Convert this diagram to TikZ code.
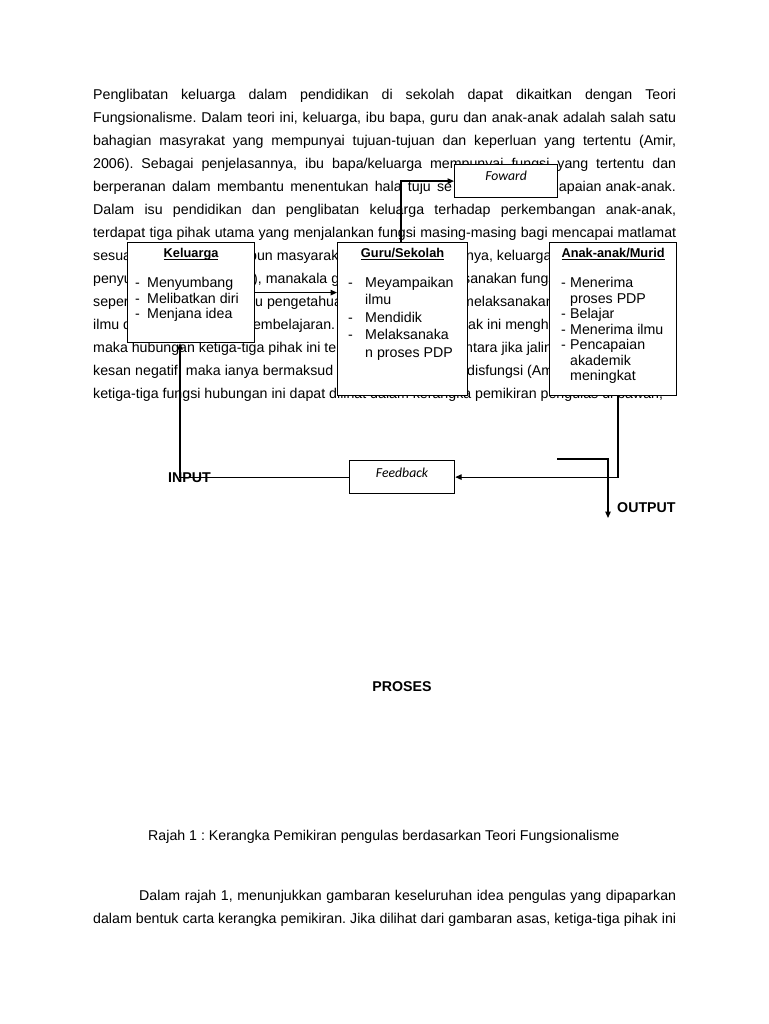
\documentclass[tikz,border=0pt]{standalone}
\usepackage{fontspec}
\setmainfont{Liberation Sans}
\newfontfamily\calibri{Carlito}
\usetikzlibrary{positioning,arrows.meta}
\frenchspacing
\newcommand\body{\fontsize{14.2}{17}\selectfont}
\newcommand\hfont{\fontsize{12.8}{15}\selectfont\bfseries}
\newcommand\ulin[1]{\setbox0\hbox{#1}\rlap{\rule[-2pt]{\wd0}{0.9pt}}\box0}

\begin{document}
\begin{tikzpicture}[x=1pt, y=-1pt, font=\body,
  ln/.style={anchor=base west, inner sep=0pt},
  bx/.style={draw, fill=white, line width=1.2pt, anchor=north west, inner sep=0pt},
  hd/.style={anchor=base, inner sep=0pt, font=\hfont},
  it/.style={anchor=base west, inner sep=0pt},
  lb/.style={anchor=base, inner sep=0pt, font=\calibri\itshape\fontsize{13.7}{16}\selectfont},
  io/.style={anchor=base west, inner sep=0pt, font=\body\bfseries},
  arr/.style={line width=1.2pt, -{Triangle[length=6.5pt,width=5.5pt]}}]
\fill[white] (0,0) rectangle (768,1024);
\useasboundingbox (0,0) rectangle (768,1024);
% paragraph above the chart
\node[ln] (p1) at (93,100) {\makebox[583pt][s]{Penglibatan keluarga dalam pendidikan di sekolah dapat dikaitkan dengan Teori}};
\node[ln] (p2) at (93,122.9) {\makebox[583pt][s]{Fungsionalisme. Dalam teori ini, keluarga, ibu bapa, guru dan anak-anak adalah salah satu}};
\node[ln] (p3) at (93,145.9) {\makebox[583pt][s]{bahagian masyrakat yang mempunyai tujuan-tujuan dan keperluan yang tertentu (Amir,}};
\node[ln] (p4) at (93,168.8) {\makebox[583pt][s]{2006). Sebagai penjelasannya, ibu bapa/keluarga mempunyai fungsi yang tertentu dan}};
\node[ln] (p5a) at (93,191.7) {\makebox[359pt][s]{berperanan dalam membantu menentukan hala tuju se}};
\node[ln, anchor=base east] (p5b) at (676,191.7) {apaian anak-anak.};
\node[ln] (p6) at (93,214.6) {\makebox[583pt][s]{Dalam isu pendidikan dan penglibatan keluarga terhadap perkembangan anak-anak,}};
\node[ln] (p7) at (93,237.6) {\makebox[583pt][s]{terdapat tiga pihak utama yang menjalankan fungsi masing-masing bagi mencapai matlamat}};
\node[ln] (p8a) at (93,260.5) {sesua};
\node[ln] (p8b) at (249,260.5) {pun masyarak};
\node[ln] (p8c) at (466,260.5) {nya, keluarga};
\node[ln] (p9a) at (93,283.4) {penyu};
\node[ln] (p9b) at (253,283.4) {), manakala g};
\node[ln] (p9c) at (463,283.4) {sanakan fungsi};
\node[ln] (p10a) at (93,306.4) {seperti};
\node[ln] (p10b) at (255,306.4) {u pengetahuan};
\node[ln] (p10c) at (462,306.4) {melaksanakan};
\node[ln] (p11a) at (93,329.3) {ilmu d};
\node[ln] (p11b) at (245,329.3) {pembelajaran.};
\node[ln] (p11c) at (468,329.3) {ak ini mengha};
\node[ln] (p12a) at (93,352.2) {maka hubungan ketiga-tiga pihak ini te};
\node[ln] (p12b) at (465,352.2) {ntara jika jalin};
\node[ln] (p13a) at (93,375.2) {\makebox[240pt][s]{kesan negatif, maka ianya bermaksud}};
\node[ln] (p13b) at (467,375.2) {disfungsi (Amir};
\node[ln] (p14) at (93,398.1) {ketiga-tiga fungsi hubungan ini dapat dilihat dalam kerangka pemikiran pengulas di bawah,};
% boxes
\node[bx, minimum width=127pt, minimum height=100pt] (kel) at (127,242) {};
\node[bx, minimum width=130pt, minimum height=153pt] (guru) at (337,242) {};
\node[bx, minimum width=127pt, minimum height=153pt] (anak) at (549,242) {};
\node[bx, minimum width=103pt, minimum height=33pt] (fwd) at (454,164) {};
\node[bx, minimum width=105pt, minimum height=33pt] (fb) at (349,460) {};
\node[hd] (kelh) at ([yshift=-15.5pt]kel.north) {\ulin{Keluarga}};
\node[hd] (guruh) at ([yshift=-15.5pt]guru.north) {\ulin{Guru/Sekolah}};
\node[hd] (anakh) at ([yshift=-15.5pt]anak.north) {\ulin{Anak-anak/Murid}};
\node[it] (k1) at (135,287.5) {\makebox[12pt][l]{-}Menyumbang};
\node[it] (k2) at (135,303) {\makebox[12pt][l]{-}Melibatkan diri};
\node[it] (k3) at (135,318.5) {\makebox[12pt][l]{-}Menjana idea};
\node[it] (g1) at (348,287.5) {\makebox[17pt][l]{-}Meyampaikan};
\node[it] (g2) at (365,304.9) {ilmu};
\node[it] (g3) at (348,322.3) {\makebox[17pt][l]{-}Mendidik};
\node[it] (g4) at (348,339.7) {\makebox[17pt][l]{-}Melaksanaka};
\node[it] (g5) at (365,357.1) {n proses PDP};
\node[it] (a1) at (561,287.5) {\makebox[9pt][l]{-}Menerima};
\node[it] (a2) at (570,303) {proses PDP};
\node[it] (a3) at (561,318.5) {\makebox[9pt][l]{-}Belajar};
\node[it] (a4) at (561,334) {\makebox[9pt][l]{-}Menerima ilmu};
\node[it] (a5) at (561,349.5) {\makebox[9pt][l]{-}Pencapaian};
\node[it] (a6) at (570,365) {akademik};
\node[it] (a7) at (570,380.5) {meningkat};
\node[lb] (fwdt) at ([yshift=-16.5pt]fwd.north) {Foward};
\node[lb] (fbt) at ([yshift=-17.5pt]fb.north) {Feedback};
\node[io] (inp) at (168,482) {INPUT};
\node[io] (outp) at (617,512) {OUTPUT};
\node[io, anchor=base] (pros) at (402,691) {PROSES};
% connectors
\draw[arr] (kel.east) -- (kel.east -| guru.west);
\draw[arr] ([xshift=64pt]guru.north west) |- (fwd.west);
\draw[arr] ([xshift=69pt]anak.south west) |- (fb.east);
\draw[arr] (fb.west) -| ([xshift=53pt]kel.south west);
\coordinate (o1) at (557,459);
\coordinate (o2) at (608,518);
\draw[arr] (o1) -| (o2);
% caption and text below
\node[ln] (cap) at (148,840) {Rajah 1 : Kerangka Pemikiran pengulas berdasarkan Teori Fungsionalisme};
\node[ln] (q1) at (139,900) {\makebox[537pt][s]{Dalam rajah 1, menunjukkan gambaran keseluruhan idea pengulas yang dipaparkan}};
\node[ln] (q2) at (93,923) {\makebox[583pt][s]{dalam bentuk carta kerangka pemikiran. Jika dilihat dari gambaran asas, ketiga-tiga pihak ini}};
\end{tikzpicture}
\end{document}
